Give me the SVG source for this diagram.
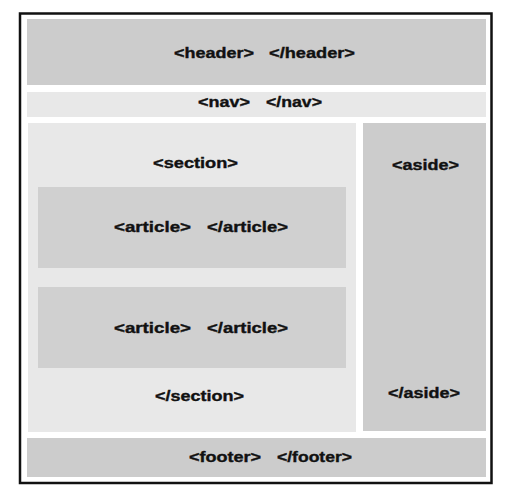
<svg xmlns="http://www.w3.org/2000/svg" width="506" height="494" viewBox="0 0 506 494">
<style>
.t{font-family:"Liberation Sans",Arial,sans-serif;font-weight:bold;font-size:15.5px;fill:#111;stroke:#111;stroke-width:0.4}
.dark{fill:#cccccc}
.light{fill:#e8e8e8}
.art{fill:#d0d0d0}
</style>
<rect x="0" y="0" width="506" height="494" fill="#ffffff"/>
<g id="page">
<rect x="20" y="13.5" width="471.5" height="469.5" fill="#ffffff" stroke="#111" stroke-width="2.5"/>
</g>
<g id="header">
<rect class="dark" x="27" y="19" width="459" height="66"/>
<text class="t" x="174" y="58" textLength="80" lengthAdjust="spacingAndGlyphs">&lt;header&gt;</text>
<text class="t" x="269" y="58" textLength="86" lengthAdjust="spacingAndGlyphs">&lt;/header&gt;</text>
</g>
<g id="nav">
<rect class="light" x="27" y="92" width="459" height="25"/>
<text class="t" x="198" y="107" textLength="52" lengthAdjust="spacingAndGlyphs">&lt;nav&gt;</text>
<text class="t" x="266" y="107" textLength="56" lengthAdjust="spacingAndGlyphs">&lt;/nav&gt;</text>
</g>
<g id="section">
<rect class="light" x="28" y="123" width="328" height="309"/>
<text class="t" x="153" y="168" textLength="85" lengthAdjust="spacingAndGlyphs">&lt;section&gt;</text>
<text class="t" x="155" y="401" textLength="89" lengthAdjust="spacingAndGlyphs">&lt;/section&gt;</text>
</g>
<g id="article1">
<rect class="art" x="38" y="187" width="308" height="81"/>
<text class="t" x="114" y="232" textLength="77" lengthAdjust="spacingAndGlyphs">&lt;article&gt;</text>
<text class="t" x="207" y="232" textLength="81" lengthAdjust="spacingAndGlyphs">&lt;/article&gt;</text>
</g>
<g id="article2">
<rect class="art" x="38" y="287" width="308" height="81"/>
<text class="t" x="114" y="333" textLength="77" lengthAdjust="spacingAndGlyphs">&lt;article&gt;</text>
<text class="t" x="207" y="333" textLength="81" lengthAdjust="spacingAndGlyphs">&lt;/article&gt;</text>
</g>
<g id="aside">
<rect class="dark" x="363" y="123" width="123" height="308"/>
<text class="t" x="392" y="170" textLength="67" lengthAdjust="spacingAndGlyphs">&lt;aside&gt;</text>
<text class="t" x="388" y="398" textLength="72" lengthAdjust="spacingAndGlyphs">&lt;/aside&gt;</text>
</g>
<g id="footer">
<rect class="dark" x="27" y="438" width="459" height="39"/>
<text class="t" x="189" y="462" textLength="72" lengthAdjust="spacingAndGlyphs">&lt;footer&gt;</text>
<text class="t" x="277" y="462" textLength="75" lengthAdjust="spacingAndGlyphs">&lt;/footer&gt;</text>
</g>
<g id="connectors"></g>
</svg>
